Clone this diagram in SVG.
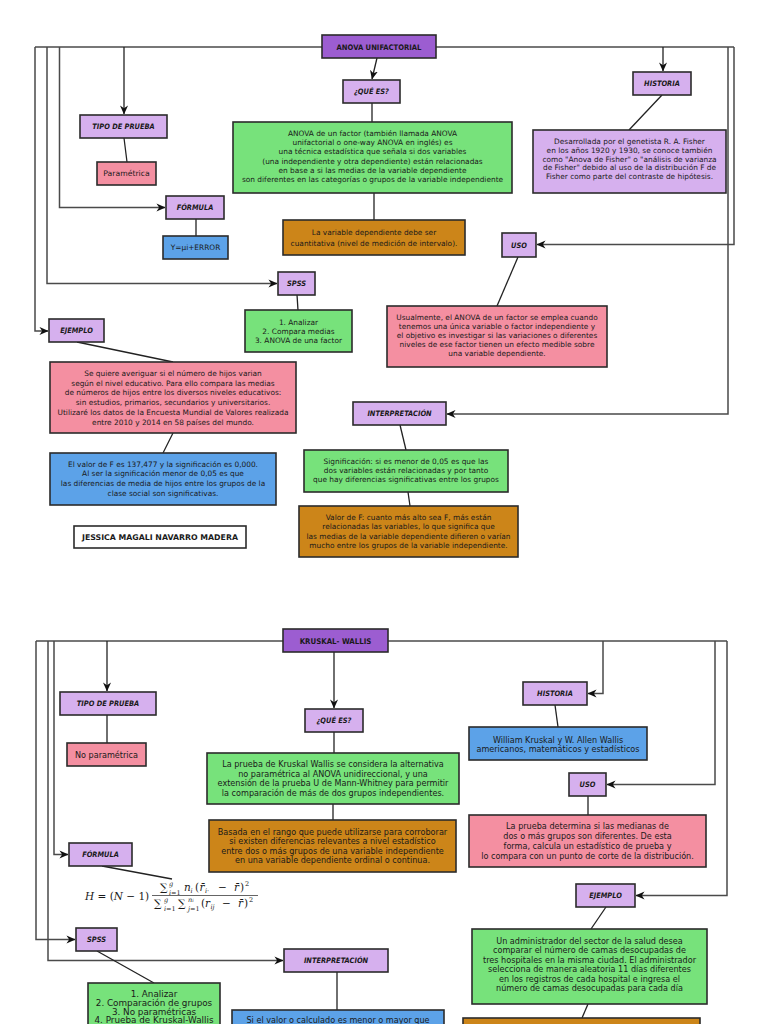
<svg xmlns="http://www.w3.org/2000/svg" width="768" height="1024" viewBox="0 0 768 1024">
<defs>
<style>
.bx{stroke:#2b2b2b;stroke-width:1.6}
.ti{fill:#9c5dd1}.lb{fill:#d6b0ee}.gr{fill:#77e27b}.or{fill:#cc8519}.pk{fill:#f48fa1}.bl{fill:#5ca2e8}.wh{fill:#fff}
text{font-family:"DejaVu Sans",Verdana,sans-serif;fill:#1a1a1a;text-anchor:middle}
.tt{font-family:"DejaVu Sans Condensed","DejaVu Sans",sans-serif;font-stretch:condensed;font-weight:bold;font-size:7.6px}
.lt{font-family:"DejaVu Sans Condensed","DejaVu Sans",sans-serif;font-stretch:condensed;font-weight:bold;font-style:italic;font-size:7.4px}
.s7{font-size:7.4px}
.s75{font-size:8.1px}
.s9{font-size:8.8px}
.m{font-family:"DejaVu Serif","Liberation Serif",serif;text-anchor:start;font-size:10.5px}
.ms{font-size:6.5px}
.it{font-style:italic}
.cn{fill:none;stroke:#222;stroke-width:1.3}
.fr{fill:none;stroke:#4a4a4a;stroke-width:1.5}
</style>
<marker id="a" viewBox="0 0 10 10" refX="9.5" refY="5" markerWidth="9" markerHeight="9" orient="auto" markerUnits="userSpaceOnUse"><path d="M0,0.5 L10,5 L0,9.5 L3,5 z" fill="#111"/></marker>
</defs>

<g id="connectors">
<!-- top diagram -->
<path class="fr" d="M35,47 H734"/>
<path class="fr" d="M35,47 V331 H48" marker-end="url(#a)"/>
<path class="fr" d="M47,47 V283.5 H277" marker-end="url(#a)"/>
<path class="fr" d="M59.5,47 V207.5 H165" marker-end="url(#a)"/>
<path class="cn" d="M124,47 V114" marker-end="url(#a)"/>
<path class="cn" d="M663,47 V71" marker-end="url(#a)"/>
<path class="fr" d="M734,47 V244.5 H537" marker-end="url(#a)"/>
<path class="fr" d="M728,47 V414 H447" marker-end="url(#a)"/>
<path class="cn" d="M377,58 L372,79" marker-end="url(#a)"/>
<path class="cn" d="M372,103 L372,122"/>
<path class="cn" d="M374,193 L374,220"/>
<path class="cn" d="M124,138 L127,162"/>
<path class="cn" d="M196,219 L196,236"/>
<path class="cn" d="M662,95 L629,130"/>
<path class="cn" d="M518,257 L497,306"/>
<path class="cn" d="M297,295 L298,310"/>
<path class="cn" d="M77,342 L173,362"/>
<path class="cn" d="M173,433 L163,453"/>
<path class="cn" d="M400,425 L406,450"/>
<path class="cn" d="M408,492 L410,506"/>
<!-- bottom diagram -->
<path class="fr" d="M36,641 H727"/>
<path class="fr" d="M36,641 V939.5 H75" marker-end="url(#a)"/>
<path class="fr" d="M48,641 V960.5 H283" marker-end="url(#a)"/>
<path class="fr" d="M54,641 V854.5 H68" marker-end="url(#a)"/>
<path class="cn" d="M107,641 V691" marker-end="url(#a)"/>
<path class="cn" d="M334,652 V708" marker-end="url(#a)"/>
<path class="fr" d="M603,641 V693.5 H588" marker-end="url(#a)"/>
<path class="fr" d="M715,641 V784.5 H607" marker-end="url(#a)"/>
<path class="fr" d="M727,641 V895.5 H636" marker-end="url(#a)"/>
<path class="cn" d="M107,715 L107,743"/>
<path class="cn" d="M334,732 L334,753"/>
<path class="cn" d="M333,804 L333,820"/>
<path class="cn" d="M102,866 L172,879"/>
<path class="cn" d="M97,951 L154,983"/>
<path class="cn" d="M555,705 L558,727"/>
<path class="cn" d="M588,796 L588,815"/>
<path class="cn" d="M606,907 L591,929"/>
<path class="cn" d="M588,1004 L582,1018"/>
<path class="cn" d="M337,972 L337,1010"/>
</g>

<!-- ===== TOP: ANOVA ===== -->
<g id="anova">
<rect class="bx ti" x="322" y="35" width="114" height="23"/>
<text class="tt" x="379" y="49.5">ANOVA UNIFACTORIAL</text>
</g>
<g id="queEs1">
<rect class="bx lb" x="343" y="80" width="57" height="23"/>
<text class="lt" x="371.5" y="94.3">¿QUÉ ES?</text>
</g>
<g id="queEs1Def">
<rect class="bx gr" x="233" y="122" width="279" height="71"/>
<text class="s7" x="372.5" y="136">ANOVA de un factor (también llamada ANOVA</text>
<text class="s7" x="372.5" y="145.2">unifactorial o one-way ANOVA en inglés) es</text>
<text class="s7" x="372.5" y="154.4">una técnica estadística que señala si dos variables</text>
<text class="s7" x="372.5" y="163.6">(una independiente y otra dependiente) están relacionadas</text>
<text class="s7" x="372.5" y="172.8">en base a si las medias de la variable dependiente</text>
<text class="s7" x="372.5" y="182">son diferentes en las categorías o grupos de la variable independiente</text>
</g>
<g id="queEs1Nota">
<rect class="bx or" x="283" y="220" width="182" height="35"/>
<text class="s7" x="374" y="235">La variable dependiente debe ser</text>
<text class="s7" x="374" y="245.6">cuantitativa (nivel de medición de intervalo).</text>
</g>
<g id="tipo1">
<rect class="bx lb" x="80" y="115" width="87" height="23"/>
<text class="lt" x="123.5" y="129.3">TIPO DE PRUEBA</text>
</g>
<g id="tipo1Val">
<rect class="bx pk" x="97" y="162" width="59" height="23"/>
<text class="s7" x="126.5" y="176.2" style="font-size:7.7px">Paramétrica</text>
</g>
<g id="formula1">
<rect class="bx lb" x="166" y="196" width="58" height="23"/>
<text class="lt" x="195" y="210.3">FÓRMULA</text>
</g>
<g id="formula1Val">
<rect class="bx bl" x="163" y="236" width="65" height="23"/>
<text class="s7" x="195.5" y="250">Y=μi+ERROR</text>
</g>
<g id="historia1">
<rect class="bx lb" x="633" y="72" width="58" height="23"/>
<text class="lt" x="662" y="86.3">HISTORIA</text>
</g>
<g id="historia1Txt">
<rect class="bx lb" x="533" y="130" width="193" height="63"/>
<text class="s7" x="629.5" y="144">Desarrollada por el genetista R. A. Fisher</text>
<text class="s7" x="629.5" y="152.8">en los años 1920 y 1930, se conoce también</text>
<text class="s7" x="629.5" y="161.6">como "Anova de Fisher" o "análisis de varianza</text>
<text class="s7" x="629.5" y="170.4">de Fisher" debido al uso de la distribución F de</text>
<text class="s7" x="629.5" y="179.2">Fisher como parte del contraste de hipótesis.</text>
</g>
<g id="uso1">
<rect class="bx lb" x="502" y="233" width="34" height="24"/>
<text class="lt" x="519" y="247.7">USO</text>
</g>
<g id="uso1Txt">
<rect class="bx pk" x="387" y="306" width="220" height="61"/>
<text class="s7" x="497" y="319.5">Usualmente, el ANOVA de un factor se emplea cuando</text>
<text class="s7" x="497" y="328.5">tenemos una única variable o factor independiente y</text>
<text class="s7" x="497" y="337.5">el objetivo es investigar si las variaciones o diferentes</text>
<text class="s7" x="497" y="346.5">niveles de ese factor tienen un efecto medible sobre</text>
<text class="s7" x="497" y="355.5">una variable dependiente.</text>
</g>
<g id="spss1">
<rect class="bx lb" x="278" y="272" width="37" height="23"/>
<text class="lt" x="296.5" y="286.3">SPSS</text>
</g>
<g id="spss1Txt">
<rect class="bx gr" x="245" y="310" width="107" height="42"/>
<text class="s7" x="298.5" y="324.5">1. Analizar</text>
<text class="s7" x="298.5" y="333.8">2. Compara medias</text>
<text class="s7" x="298.5" y="343">3. ANOVA de una factor</text>
</g>
<g id="ejemplo1">
<rect class="bx lb" x="49" y="319" width="55" height="23"/>
<text class="lt" x="76.5" y="333.3">EJEMPLO</text>
</g>
<g id="ejemplo1Txt">
<rect class="bx pk" x="50" y="362" width="246" height="71"/>
<text class="s7" x="173" y="375.8">Se quiere averiguar si el número de hijos varian</text>
<text class="s7" x="173" y="385.6">según el nivel educativo. Para ello compara las medias</text>
<text class="s7" x="173" y="395.4">de números de hijos entre los diversos niveles educativos:</text>
<text class="s7" x="173" y="405.2">sin estudios, primarios, secundarios y universitarios.</text>
<text class="s7" x="173" y="415">Utilizaré los datos de la Encuesta Mundial de Valores realizada</text>
<text class="s7" x="173" y="424.8">entre 2010 y 2014 en 58 países del mundo.</text>
</g>
<g id="ejemplo1Res">
<rect class="bx bl" x="50" y="453" width="226" height="52"/>
<text class="s7" x="163" y="466.5">El valor de F es 137,477 y la significación es 0,000.</text>
<text class="s7" x="163" y="476.2">Al ser la significación menor de 0,05 es que</text>
<text class="s7" x="163" y="485.9">las diferencias de media de hijos entre los grupos de la</text>
<text class="s7" x="163" y="495.6">clase social son significativas.</text>
</g>
<g id="autora">
<rect class="bx wh" x="74" y="526" width="172" height="22"/>
<text x="160" y="540" style="font-weight:bold;font-size:7.8px">JESSICA MAGALI NAVARRO MADERA</text>
</g>
<g id="interp1">
<rect class="bx lb" x="353" y="402" width="93" height="23"/>
<text class="lt" x="399.5" y="416.3">INTERPRETACIÓN</text>
</g>
<g id="interp1Sig">
<rect class="bx gr" x="304" y="450" width="204" height="42"/>
<text class="s7" x="406" y="463.5">Significación: si es menor de 0,05 es que las</text>
<text class="s7" x="406" y="472.7">dos variables están relacionadas y por tanto</text>
<text class="s7" x="406" y="481.9">que hay diferencias significativas entre los grupos</text>
</g>
<g id="interp1F">
<rect class="bx or" x="299" y="506" width="219" height="51"/>
<text class="s7" x="408.5" y="520.2">Valor de F: cuanto más alto sea F, más están</text>
<text class="s7" x="408.5" y="529.4">relacionadas las variables, lo que significa que</text>
<text class="s7" x="408.5" y="538.6">las medias de la variable dependiente difieren o varían</text>
<text class="s7" x="408.5" y="547.8">mucho entre los grupos de la variable independiente.</text>
</g>

<!-- ===== BOTTOM: KRUSKAL-WALLIS ===== -->
<g id="kruskal">
<rect class="bx ti" x="283" y="629" width="105" height="23"/>
<text class="tt" x="335.5" y="643.5" style="font-size:7.8px">KRUSKAL- WALLIS</text>
</g>
<g id="tipo2">
<rect class="bx lb" x="60" y="692" width="96" height="23"/>
<text class="lt" x="108" y="706.3">TIPO DE PRUEBA</text>
</g>
<g id="tipo2Val">
<rect class="bx pk" x="67" y="743" width="79" height="23"/>
<text class="s75" x="106.5" y="757.5">No paramétrica</text>
</g>
<g id="queEs2">
<rect class="bx lb" x="305" y="709" width="58" height="23"/>
<text class="lt" x="334" y="723.3">¿QUÉ ES?</text>
</g>
<g id="queEs2Def">
<rect class="bx gr" x="207" y="753" width="252" height="51"/>
<text class="s75" x="333" y="767">La prueba de Kruskal Wallis se considera la alternativa</text>
<text class="s75" x="333" y="776.5">no paramétrica al ANOVA unidireccional, y una</text>
<text class="s75" x="333" y="786">extensión de la prueba U de Mann-Whitney para permitir</text>
<text class="s75" x="333" y="795.5">la comparación de más de dos grupos independientes.</text>
</g>
<g id="queEs2Nota">
<rect class="bx or" x="209" y="820" width="247" height="52"/>
<text class="s75" x="332.5" y="834.5">Basada en el rango que puede utilizarse para corroborar</text>
<text class="s75" x="332.5" y="844">si existen diferencias relevantes a nivel estadístico</text>
<text class="s75" x="332.5" y="853.5">entre dos o más grupos de una variable independiente</text>
<text class="s75" x="332.5" y="863">en una variable dependiente ordinal o continua.</text>
</g>
<g id="formula2">
<rect class="bx lb" x="69" y="843" width="63" height="23"/>
<text class="lt" x="100.5" y="857.3">FÓRMULA</text>
</g>
<g id="formula2Val">
<text class="m" x="85" y="900"><tspan class="it">H</tspan> = (<tspan class="it">N</tspan> − 1)</text>
<line x1="152" y1="895.5" x2="258" y2="895.5" stroke="#222" stroke-width="0.7"/>
<text class="m"><tspan x="160" y="891">∑</tspan><tspan class="ms it" x="169" y="885.5">g</tspan><tspan class="ms" x="169" y="894.5"><tspan class="it">i</tspan>=1</tspan><tspan class="it" x="184" y="891">n</tspan><tspan class="ms it" x="190.5" y="893">i</tspan><tspan x="195" y="891">(</tspan><tspan class="it" x="199.5" y="891">r̄</tspan><tspan class="ms it" x="205" y="893">i·</tspan><tspan x="218" y="891">−</tspan><tspan class="it" x="234" y="891">r̄</tspan><tspan x="240" y="891">)</tspan><tspan class="ms" x="245" y="886">2</tspan></text>
<text class="m"><tspan x="154" y="907">∑</tspan><tspan class="ms it" x="164" y="901.5">g</tspan><tspan class="ms" x="164" y="910.5"><tspan class="it">i</tspan>=1</tspan><tspan x="178" y="907">∑</tspan><tspan class="ms it" x="188" y="901.5">n<tspan style="font-size:4.5px">i</tspan></tspan><tspan class="ms" x="188" y="910.5"><tspan class="it">j</tspan>=1</tspan><tspan x="201" y="907">(</tspan><tspan class="it" x="205" y="907">r</tspan><tspan class="ms it" x="210.5" y="909">ij</tspan><tspan x="222" y="907">−</tspan><tspan class="it" x="238" y="907">r̄</tspan><tspan x="244" y="907">)</tspan><tspan class="ms" x="249" y="902">2</tspan></text>
</g>
<g id="spss2">
<rect class="bx lb" x="76" y="928" width="41" height="23"/>
<text class="lt" x="96.5" y="942.3">SPSS</text>
</g>
<g id="spss2Txt">
<rect class="bx gr" x="88" y="983" width="132" height="60"/>
<text class="s9" x="154" y="997">1. Analizar</text>
<text class="s9" x="154" y="1006">2. Comparación de grupos</text>
<text class="s9" x="154" y="1015">3. No paramétricas</text>
<text class="s9" x="154" y="1023">4. Prueba de Kruskal-Wallis</text>
</g>
<g id="interp2">
<rect class="bx lb" x="284" y="949" width="104" height="23"/>
<text class="lt" x="336" y="963.3">INTERPRETACIÓN</text>
</g>
<g id="interp2Txt">
<rect class="bx bl" x="232" y="1010" width="212" height="30"/>
<text class="s75" x="338" y="1022.5">Si el valor o calculado es menor o mayor que</text>
</g>
<g id="historia2">
<rect class="bx lb" x="523" y="682" width="64" height="23"/>
<text class="lt" x="555" y="696.3">HISTORIA</text>
</g>
<g id="historia2Txt">
<rect class="bx bl" x="469" y="727" width="178" height="33"/>
<text class="s75" x="558" y="742.5">William Kruskal y W. Allen Wallis</text>
<text class="s75" x="558" y="752.2">americanos, matemáticos y estadísticos</text>
</g>
<g id="uso2">
<rect class="bx lb" x="569" y="773" width="37" height="23"/>
<text class="lt" x="587.5" y="787.3">USO</text>
</g>
<g id="uso2Txt">
<rect class="bx pk" x="469" y="815" width="237" height="52"/>
<text class="s75" x="587.5" y="828.5">La prueba determina si las medianas de</text>
<text class="s75" x="587.5" y="838.5">dos o más grupos son diferentes. De esta</text>
<text class="s75" x="587.5" y="848.5">forma, calcula un estadístico de prueba y</text>
<text class="s75" x="587.5" y="858.5">lo compara con un punto de corte de la distribución.</text>
</g>
<g id="ejemplo2">
<rect class="bx lb" x="576" y="884" width="59" height="23"/>
<text class="lt" x="605.5" y="898.3">EJEMPLO</text>
</g>
<g id="ejemplo2Txt">
<rect class="bx gr" x="472" y="929" width="235" height="75"/>
<text class="s75" x="589.5" y="943.5">Un administrador del sector de la salud desea</text>
<text class="s75" x="589.5" y="953">comparar el número de camas desocupadas de</text>
<text class="s75" x="589.5" y="962.5">tres hospitales en la misma ciudad. El administrador</text>
<text class="s75" x="589.5" y="972">selecciona de manera aleatoria 11 días diferentes</text>
<text class="s75" x="589.5" y="981.5">en los registros de cada hospital e ingresa el</text>
<text class="s75" x="589.5" y="991">número de camas desocupadas para cada día</text>
</g>
<g id="ejemplo2Res">
<rect class="bx or" x="463" y="1018" width="237" height="30"/>
</g>
</svg>
